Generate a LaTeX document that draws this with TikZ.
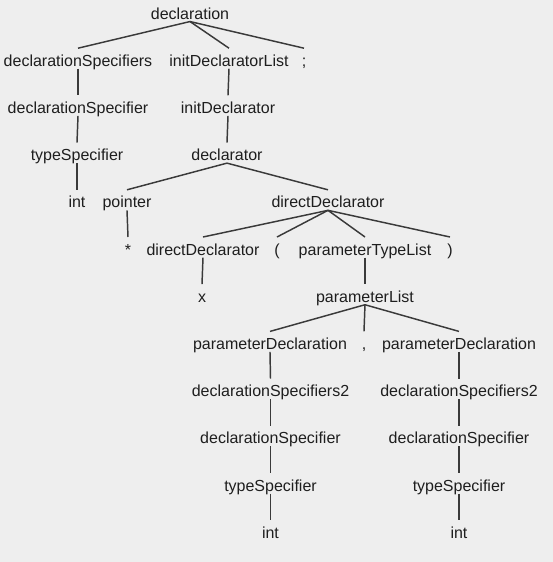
\documentclass[tikz,border=0pt]{standalone}
\usepackage{fontspec}
\setmainfont{Liberation Sans}
\usetikzlibrary{positioning}
\definecolor{bgcol}{HTML}{EEEEEE}
\definecolor{edgecol}{HTML}{3A3A3A}
\definecolor{txtcol}{HTML}{1E1E1E}
\tikzset{sym/.style={anchor=base, inner sep=0pt, outer sep=0pt, text height=13.5pt, text depth=1.9pt, text=txtcol, font=\fontsize{12}{14}\selectfont}}
\tikzset{edge/.style={draw=edgecol, line width=1.1pt}}

\begin{document}
\begin{tikzpicture}[x=0.75pt, y=-0.75pt]
	\fill[bgcol] (0,0) rectangle (553,562);
	%
	\node[sym] (decl) at (190,19) {declaration};
	\node[sym] (declSpecs) at (78,66.2) {declarationSpecifiers};
	\node[sym] (initDeclList) at (229,66.2) {initDeclaratorList};
	\node[sym] (semi) at (304,66.2) {;};
	\node[sym] (declSpec) at (78,113.4) {declarationSpecifier};
	\node[sym] (initDecl) at (228,113.4) {initDeclarator};
	\node[sym] (typeSpec) at (77,160.6) {typeSpecifier};
	\node[sym] (declr) at (227,160.6) {declarator};
	\node[sym] (int) at (77,207.8) {int};
	\node[sym] (pointer) at (127,207.8) {pointer};
	\node[sym] (dirDecl) at (328,207.8) {directDeclarator};
	\node[sym] (star) at (128,255) {*};
	\node[sym] (dirDeclX) at (203,255) {directDeclarator};
	\node[sym] (lpar) at (277,255) {(};
	\node[sym] (paramTypeList) at (365,255) {parameterTypeList};
	\node[sym] (rpar) at (450,255) {)};
	\node[sym] (x) at (202,302.2) {x};
	\node[sym] (paramList) at (365,302.2) {parameterList};
	\node[sym] (paramDeclA) at (270,349.4) {parameterDeclaration};
	\node[sym] (comma) at (364,349.4) {,};
	\node[sym] (paramDeclB) at (459,349.4) {parameterDeclaration};
	%
	\foreach \s/\xx in {A/270.5, B/459} {
		\node[sym] (declSpecs2\s) at (\xx,396.6) {declarationSpecifiers2};
		\node[sym] (declSpec\s) at (\xx,443.8) {declarationSpecifier};
		\node[sym] (typeSpec\s) at (\xx,491) {typeSpecifier};
		\node[sym] (int\s) at (\xx,538.2) {int};
	}
	%
	\foreach \p/\c in {decl/declSpecs, decl/initDeclList, decl/semi,
		declSpecs/declSpec, declSpec/typeSpec, typeSpec/int,
		initDeclList/initDecl, initDecl/declr, declr/pointer, declr/dirDecl,
		pointer/star, dirDecl/dirDeclX, dirDecl/lpar, dirDecl/paramTypeList, dirDecl/rpar,
		dirDeclX/x, paramTypeList/paramList,
		paramList/paramDeclA, paramList/comma, paramList/paramDeclB,
		paramDeclA/declSpecs2A, declSpecs2A/declSpecA, declSpecA/typeSpecA, typeSpecA/intA,
		paramDeclB/declSpecs2B, declSpecs2B/declSpecB, declSpecB/typeSpecB, typeSpecB/intB}
		\draw[edge] (\p.south) -- (\c.north);
\end{tikzpicture}
\end{document}
